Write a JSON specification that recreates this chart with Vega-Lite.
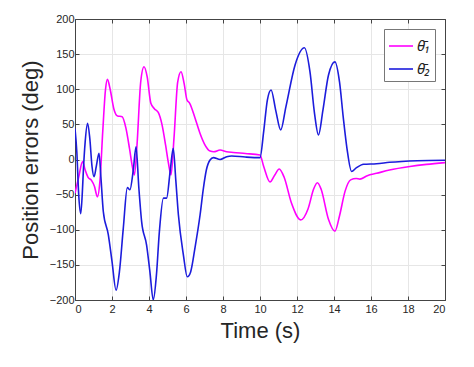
{
  "$schema": "https://vega.github.io/schema/vega-lite/v6.json",
  "autosize": "none",
  "width": 370,
  "height": 281,
  "padding": {"left": 75, "top": 19, "right": 29, "bottom": 67},
  "background": "white",
  "config": {
    "view": {"stroke": "#444444", "strokeWidth": 1},
    "axis": {
      "domainColor": "#444444",
      "tickColor": "#444444",
      "gridColor": "#e6e6e6",
      "labelColor": "#262626",
      "labelFont": "Liberation Sans",
      "labelFontSize": 11,
      "titleFont": "Liberation Sans",
      "titleFontWeight": "normal",
      "titleColor": "#262626",
      "titleFontSize": 22,
      "tickSize": -4
    }
  },
  "data": {"values": [
    {"t":0,"v":-48,"s":"θ̄₁"},{"t":0.2,"v":-25,"s":"θ̄₁"},{"t":0.41,"v":-3,"s":"θ̄₁"},{"t":0.55,"v":-15,"s":"θ̄₁"},{"t":0.7,"v":-25,"s":"θ̄₁"},{"t":0.9,"v":-30,"s":"θ̄₁"},{"t":1.05,"v":-38,"s":"θ̄₁"},{"t":1.21,"v":-53,"s":"θ̄₁"},{"t":1.35,"v":-30,"s":"θ̄₁"},{"t":1.5,"v":40,"s":"θ̄₁"},{"t":1.65,"v":100,"s":"θ̄₁"},{"t":1.75,"v":114,"s":"θ̄₁"},{"t":1.9,"v":100,"s":"θ̄₁"},{"t":2.1,"v":72,"s":"θ̄₁"},{"t":2.3,"v":62,"s":"θ̄₁"},{"t":2.55,"v":61,"s":"θ̄₁"},{"t":2.75,"v":45,"s":"θ̄₁"},{"t":2.95,"v":15,"s":"θ̄₁"},{"t":3.1,"v":-10,"s":"θ̄₁"},{"t":3.21,"v":-22,"s":"θ̄₁"},{"t":3.35,"v":20,"s":"θ̄₁"},{"t":3.55,"v":110,"s":"θ̄₁"},{"t":3.73,"v":132,"s":"θ̄₁"},{"t":3.9,"v":118,"s":"θ̄₁"},{"t":4.1,"v":80,"s":"θ̄₁"},{"t":4.3,"v":72,"s":"θ̄₁"},{"t":4.5,"v":67,"s":"θ̄₁"},{"t":4.7,"v":50,"s":"θ̄₁"},{"t":4.9,"v":20,"s":"θ̄₁"},{"t":5.05,"v":-5,"s":"θ̄₁"},{"t":5.19,"v":-22,"s":"θ̄₁"},{"t":5.35,"v":30,"s":"θ̄₁"},{"t":5.55,"v":110,"s":"θ̄₁"},{"t":5.73,"v":125,"s":"θ̄₁"},{"t":5.9,"v":108,"s":"θ̄₁"},{"t":6.05,"v":85,"s":"θ̄₁"},{"t":6.2,"v":80,"s":"θ̄₁"},{"t":6.5,"v":58,"s":"θ̄₁"},{"t":6.76,"v":37,"s":"θ̄₁"},{"t":7.0,"v":22,"s":"θ̄₁"},{"t":7.3,"v":12,"s":"θ̄₁"},{"t":7.5,"v":11,"s":"θ̄₁"},{"t":7.84,"v":13.5,"s":"θ̄₁"},{"t":8.2,"v":11,"s":"θ̄₁"},{"t":8.56,"v":10,"s":"θ̄₁"},{"t":9.2,"v":8.5,"s":"θ̄₁"},{"t":10,"v":6.4,"s":"θ̄₁"},{"t":10.2,"v":-10,"s":"θ̄₁"},{"t":10.54,"v":-32,"s":"θ̄₁"},{"t":10.8,"v":-22,"s":"θ̄₁"},{"t":11.04,"v":-13.5,"s":"θ̄₁"},{"t":11.3,"v":-25,"s":"θ̄₁"},{"t":11.7,"v":-62,"s":"θ̄₁"},{"t":12.2,"v":-86,"s":"θ̄₁"},{"t":12.6,"v":-70,"s":"θ̄₁"},{"t":12.9,"v":-42,"s":"θ̄₁"},{"t":13.1,"v":-33,"s":"θ̄₁"},{"t":13.3,"v":-42,"s":"θ̄₁"},{"t":13.7,"v":-85,"s":"θ̄₁"},{"t":14.05,"v":-102,"s":"θ̄₁"},{"t":14.3,"v":-80,"s":"θ̄₁"},{"t":14.6,"v":-45,"s":"θ̄₁"},{"t":14.9,"v":-29,"s":"θ̄₁"},{"t":15.2,"v":-27,"s":"θ̄₁"},{"t":15.4,"v":-28,"s":"θ̄₁"},{"t":15.8,"v":-23,"s":"θ̄₁"},{"t":16.3,"v":-19.7,"s":"θ̄₁"},{"t":17,"v":-15,"s":"θ̄₁"},{"t":18.1,"v":-10,"s":"θ̄₁"},{"t":19,"v":-7,"s":"θ̄₁"},{"t":20,"v":-4.5,"s":"θ̄₁"},
    {"t":0,"v":44,"s":"θ̄₂"},{"t":0.1,"v":10,"s":"θ̄₂"},{"t":0.2,"v":-50,"s":"θ̄₂"},{"t":0.31,"v":-77,"s":"θ̄₂"},{"t":0.4,"v":-45,"s":"θ̄₂"},{"t":0.45,"v":-17,"s":"θ̄₂"},{"t":0.55,"v":25,"s":"θ̄₂"},{"t":0.68,"v":51.5,"s":"θ̄₂"},{"t":0.8,"v":30,"s":"θ̄₂"},{"t":0.92,"v":-10,"s":"θ̄₂"},{"t":1.03,"v":-24.5,"s":"θ̄₂"},{"t":1.15,"v":-10,"s":"θ̄₂"},{"t":1.3,"v":9,"s":"θ̄₂"},{"t":1.4,"v":-25,"s":"θ̄₂"},{"t":1.53,"v":-74,"s":"θ̄₂"},{"t":1.8,"v":-107,"s":"θ̄₂"},{"t":2.0,"v":-145,"s":"θ̄₂"},{"t":2.22,"v":-186,"s":"θ̄₂"},{"t":2.4,"v":-160,"s":"θ̄₂"},{"t":2.61,"v":-98,"s":"θ̄₂"},{"t":2.83,"v":-40,"s":"θ̄₂"},{"t":2.97,"v":-43,"s":"θ̄₂"},{"t":3.15,"v":-15,"s":"θ̄₂"},{"t":3.3,"v":18,"s":"θ̄₂"},{"t":3.45,"v":-40,"s":"θ̄₂"},{"t":3.6,"v":-88,"s":"θ̄₂"},{"t":3.87,"v":-122,"s":"θ̄₂"},{"t":4.05,"v":-160,"s":"θ̄₂"},{"t":4.23,"v":-200,"s":"θ̄₂"},{"t":4.4,"v":-165,"s":"θ̄₂"},{"t":4.56,"v":-103,"s":"θ̄₂"},{"t":4.78,"v":-55,"s":"θ̄₂"},{"t":4.95,"v":-55,"s":"θ̄₂"},{"t":5.15,"v":-15,"s":"θ̄₂"},{"t":5.31,"v":16,"s":"θ̄₂"},{"t":5.45,"v":-30,"s":"θ̄₂"},{"t":5.59,"v":-79,"s":"θ̄₂"},{"t":5.86,"v":-136,"s":"θ̄₂"},{"t":6.07,"v":-167,"s":"θ̄₂"},{"t":6.25,"v":-160,"s":"θ̄₂"},{"t":6.49,"v":-125,"s":"θ̄₂"},{"t":6.76,"v":-79,"s":"θ̄₂"},{"t":6.94,"v":-41,"s":"θ̄₂"},{"t":7.1,"v":-15,"s":"θ̄₂"},{"t":7.3,"v":-0.7,"s":"θ̄₂"},{"t":7.48,"v":2.6,"s":"θ̄₂"},{"t":7.84,"v":0,"s":"θ̄₂"},{"t":8.2,"v":4,"s":"θ̄₂"},{"t":8.47,"v":5,"s":"θ̄₂"},{"t":9.2,"v":3.5,"s":"θ̄₂"},{"t":10,"v":2.6,"s":"θ̄₂"},{"t":10.2,"v":40,"s":"θ̄₂"},{"t":10.4,"v":85,"s":"θ̄₂"},{"t":10.6,"v":99,"s":"θ̄₂"},{"t":10.85,"v":70,"s":"θ̄₂"},{"t":11.12,"v":42,"s":"θ̄₂"},{"t":11.4,"v":75,"s":"θ̄₂"},{"t":11.9,"v":135,"s":"θ̄₂"},{"t":12.4,"v":159,"s":"θ̄₂"},{"t":12.7,"v":125,"s":"θ̄₂"},{"t":12.95,"v":65,"s":"θ̄₂"},{"t":13.16,"v":35,"s":"θ̄₂"},{"t":13.4,"v":70,"s":"θ̄₂"},{"t":13.7,"v":120,"s":"θ̄₂"},{"t":14.05,"v":139,"s":"θ̄₂"},{"t":14.3,"v":110,"s":"θ̄₂"},{"t":14.5,"v":60,"s":"θ̄₂"},{"t":14.7,"v":16,"s":"θ̄₂"},{"t":14.95,"v":-17,"s":"θ̄₂"},{"t":15.2,"v":-12,"s":"θ̄₂"},{"t":15.6,"v":-6.8,"s":"θ̄₂"},{"t":16.3,"v":-6,"s":"θ̄₂"},{"t":17,"v":-4,"s":"θ̄₂"},{"t":18.5,"v":-1.7,"s":"θ̄₂"},{"t":20,"v":-1,"s":"θ̄₂"}
  ]},
  "layer": [
    {
      "mark": {"type": "line", "interpolate": "monotone", "strokeWidth": 1.6, "clip": true},
      "encoding": {
        "x": {"field": "t", "type": "quantitative", "scale": {"domain": [0, 20], "nice": false},
              "axis": {"title": "Time (s)", "values": [0,2,4,6,8,10,12,14,16,18,20], "grid": true, "labelPadding": 7, "titlePadding": 6}},
        "y": {"field": "v", "type": "quantitative", "scale": {"domain": [-200, 200], "nice": false},
              "axis": {"title": "Position errors (deg)", "values": [-200,-150,-100,-50,0,50,100,150,200], "grid": true, "labelPadding": 5, "titlePadding": 7}},
        "color": {"field": "s", "type": "nominal", "scale": {"domain": ["θ̄₁", "θ̄₂"], "range": ["#ff00ff", "#1c1cdc"]},
                  "legend": {"title": null, "orient": "top-right", "offset": 10, "symbolType": "stroke", "symbolSize": 576, "symbolStrokeWidth": 1.6,
                             "labelFont": "Noto Sans", "labelFontStyle": "italic", "labelFontSize": 15, "labelColor": "#222222",
                             "fillColor": "white", "strokeColor": "#777777", "padding": 4, "rowPadding": 2, "labelOffset": 3}}
      }
    },
    {
      "mark": {"type": "line", "opacity": 0},
      "encoding": {
        "x": {"field": "t", "type": "quantitative", "axis": {"orient": "top", "labels": false, "title": null, "grid": false, "values": [0,2,4,6,8,10,12,14,16,18,20]}},
        "y": {"field": "v", "type": "quantitative", "axis": {"orient": "right", "labels": false, "title": null, "grid": false, "values": [-200,-150,-100,-50,0,50,100,150,200]}},
        "detail": {"field": "s"}
      }
    }
  ],
  "resolve": {"axis": {"x": "independent", "y": "independent"}}
}
